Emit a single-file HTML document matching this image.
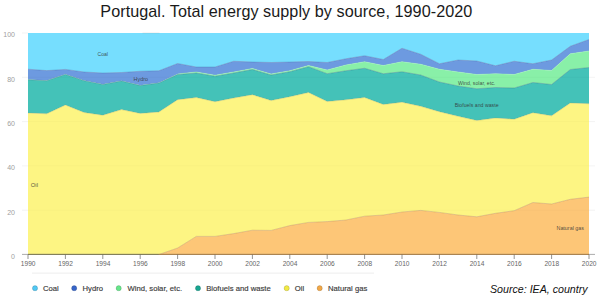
<!DOCTYPE html>
<html><head><meta charset="utf-8"><style>
html,body{margin:0;padding:0;background:#fff;width:600px;height:300px;overflow:hidden}
svg{display:block;font-family:"Liberation Sans",sans-serif}
</style></head><body>
<svg width="600" height="300" viewBox="0 0 600 300">
<text x="100.3" y="16.6" font-size="16.2" letter-spacing="0.05" fill="#1a1a1a">Portugal. Total energy supply by source, 1990-2020</text>
<line x1="22" y1="210.20" x2="595" y2="210.20" stroke="#ebebeb" stroke-width="0.6"/><line x1="22" y1="165.90" x2="595" y2="165.90" stroke="#ebebeb" stroke-width="0.6"/><line x1="22" y1="121.60" x2="595" y2="121.60" stroke="#ebebeb" stroke-width="0.6"/><line x1="22" y1="77.30" x2="595" y2="77.30" stroke="#ebebeb" stroke-width="0.6"/><line x1="22" y1="33.00" x2="28" y2="33.00" stroke="#ebebeb" stroke-width="0.6"/>
<text x="15" y="258.80" text-anchor="end" font-size="7" fill="#a0a0a0">0</text><text x="15" y="214.50" text-anchor="end" font-size="7" fill="#a0a0a0">20</text><text x="15" y="170.20" text-anchor="end" font-size="7" fill="#a0a0a0">40</text><text x="15" y="125.90" text-anchor="end" font-size="7" fill="#a0a0a0">60</text><text x="15" y="81.60" text-anchor="end" font-size="7" fill="#a0a0a0">80</text><text x="15" y="37.30" text-anchor="end" font-size="7" fill="#a0a0a0">100</text>
<polygon points="28.0,33.00 46.7,33.00 65.4,33.00 84.1,33.00 102.8,33.00 121.5,33.00 140.2,33.00 158.9,33.00 177.6,33.00 196.3,33.00 215.0,33.00 233.7,33.00 252.4,33.00 271.1,33.00 289.8,33.00 308.5,33.00 327.2,33.00 345.9,33.00 364.6,33.00 383.3,33.00 402.0,33.00 420.7,33.00 439.4,33.00 458.1,33.00 476.8,33.00 495.5,33.00 514.2,33.00 532.9,33.00 551.6,33.00 570.3,33.00 589.0,33.00 589.0,39.50 570.3,46.25 551.6,60.00 532.9,63.75 514.2,61.25 495.5,65.75 476.8,61.00 458.1,60.00 439.4,63.75 420.7,54.25 402.0,48.25 383.3,59.50 364.6,55.75 345.9,58.75 327.2,62.50 308.5,61.50 289.8,62.00 271.1,62.50 252.4,62.00 233.7,61.25 215.0,67.00 196.3,67.00 177.6,63.50 158.9,70.75 140.2,71.25 121.5,72.50 102.8,73.00 84.1,72.00 65.4,69.40 46.7,70.60 28.0,69.20" fill="#76DEFE"/><polygon points="28.0,69.20 46.7,70.60 65.4,69.40 84.1,72.00 102.8,73.00 121.5,72.50 140.2,71.25 158.9,70.75 177.6,63.50 196.3,67.00 215.0,67.00 233.7,61.25 252.4,62.00 271.1,62.50 289.8,62.00 308.5,61.50 327.2,62.50 345.9,58.75 364.6,55.75 383.3,59.50 402.0,48.25 420.7,54.25 439.4,63.75 458.1,60.00 476.8,61.00 495.5,65.75 514.2,61.25 532.9,63.75 551.6,60.00 570.3,46.25 589.0,39.50 589.0,51.00 570.3,53.80 551.6,70.50 532.9,69.30 514.2,74.50 495.5,73.75 476.8,74.50 458.1,72.00 439.4,69.25 420.7,64.25 402.0,61.75 383.3,65.50 364.6,61.75 345.9,65.00 327.2,70.00 308.5,65.50 289.8,70.75 271.1,74.00 252.4,68.50 233.7,72.00 215.0,75.25 196.3,72.00 177.6,74.00 158.9,82.80 140.2,85.30 121.5,80.75 102.8,84.25 84.1,80.50 65.4,74.25 46.7,80.50 28.0,79.50" fill="#6D9AE0"/><polygon points="28.0,79.50 46.7,80.50 65.4,74.25 84.1,80.50 102.8,84.25 121.5,80.75 140.2,85.30 158.9,82.80 177.6,74.00 196.3,72.00 215.0,75.25 233.7,72.00 252.4,68.50 271.1,74.00 289.8,70.75 308.5,65.50 327.2,70.00 345.9,65.00 364.6,61.75 383.3,65.50 402.0,61.75 420.7,64.25 439.4,69.25 458.1,72.00 476.8,74.50 495.5,73.75 514.2,74.50 532.9,69.30 551.6,70.50 570.3,53.80 589.0,51.00 589.0,67.50 570.3,69.50 551.6,84.50 532.9,82.50 514.2,88.00 495.5,87.50 476.8,88.75 458.1,86.00 439.4,82.00 420.7,75.00 402.0,71.75 383.3,73.75 364.6,68.25 345.9,70.75 327.2,73.70 308.5,66.75 289.8,71.75 271.1,75.00 252.4,69.50 233.7,73.00 215.0,76.25 196.3,73.00 177.6,74.50 158.9,83.00 140.2,85.60 121.5,81.00 102.8,84.50 84.1,80.70 65.4,74.50 46.7,80.70 28.0,79.70" fill="#89F0A8"/><polygon points="28.0,79.70 46.7,80.70 65.4,74.50 84.1,80.70 102.8,84.50 121.5,81.00 140.2,85.60 158.9,83.00 177.6,74.50 196.3,73.00 215.0,76.25 233.7,73.00 252.4,69.50 271.1,75.00 289.8,71.75 308.5,66.75 327.2,73.70 345.9,70.75 364.6,68.25 383.3,73.75 402.0,71.75 420.7,75.00 439.4,82.00 458.1,86.00 476.8,88.75 495.5,87.50 514.2,88.00 532.9,82.50 551.6,84.50 570.3,69.50 589.0,67.50 589.0,103.70 570.3,103.00 551.6,115.80 532.9,112.70 514.2,119.20 495.5,118.00 476.8,120.50 458.1,116.30 439.4,111.70 420.7,106.30 402.0,102.20 383.3,104.50 364.6,97.50 345.9,99.80 327.2,101.50 308.5,92.50 289.8,96.70 271.1,100.50 252.4,94.70 233.7,98.00 215.0,101.70 196.3,97.50 177.6,99.70 158.9,112.00 140.2,113.40 121.5,109.60 102.8,115.20 84.1,112.50 65.4,105.00 46.7,113.75 28.0,113.00" fill="#44C2B8"/><polygon points="28.0,113.00 46.7,113.75 65.4,105.00 84.1,112.50 102.8,115.20 121.5,109.60 140.2,113.40 158.9,112.00 177.6,99.70 196.3,97.50 215.0,101.70 233.7,98.00 252.4,94.70 271.1,100.50 289.8,96.70 308.5,92.50 327.2,101.50 345.9,99.80 364.6,97.50 383.3,104.50 402.0,102.20 420.7,106.30 439.4,111.70 458.1,116.30 476.8,120.50 495.5,118.00 514.2,119.20 532.9,112.70 551.6,115.80 570.3,103.00 589.0,103.70 589.0,197.10 570.3,199.30 551.6,204.00 532.9,202.50 514.2,210.70 495.5,213.30 476.8,216.80 458.1,215.00 439.4,212.40 420.7,210.40 402.0,212.00 383.3,215.00 364.6,216.20 345.9,220.00 327.2,221.60 308.5,222.40 289.8,225.60 271.1,230.40 252.4,230.20 233.7,233.60 215.0,236.40 196.3,236.40 177.6,248.00 158.9,254.50 140.2,254.50 121.5,254.50 102.8,254.50 84.1,254.50 65.4,254.50 46.7,254.50 28.0,254.50" fill="#FDF583"/><polygon points="28.0,254.50 46.7,254.50 65.4,254.50 84.1,254.50 102.8,254.50 121.5,254.50 140.2,254.50 158.9,254.50 177.6,248.00 196.3,236.40 215.0,236.40 233.7,233.60 252.4,230.20 271.1,230.40 289.8,225.60 308.5,222.40 327.2,221.60 345.9,220.00 364.6,216.20 383.3,215.00 402.0,212.00 420.7,210.40 439.4,212.40 458.1,215.00 476.8,216.80 495.5,213.30 514.2,210.70 532.9,202.50 551.6,204.00 570.3,199.30 589.0,197.10 589.0,254.50 570.3,254.50 551.6,254.50 532.9,254.50 514.2,254.50 495.5,254.50 476.8,254.50 458.1,254.50 439.4,254.50 420.7,254.50 402.0,254.50 383.3,254.50 364.6,254.50 345.9,254.50 327.2,254.50 308.5,254.50 289.8,254.50 271.1,254.50 252.4,254.50 233.7,254.50 215.0,254.50 196.3,254.50 177.6,254.50 158.9,254.50 140.2,254.50 121.5,254.50 102.8,254.50 84.1,254.50 65.4,254.50 46.7,254.50 28.0,254.50" fill="#FDC677"/><polyline points="28.0,69.20 46.7,70.60 65.4,69.40 84.1,72.00 102.8,73.00 121.5,72.50 140.2,71.25 158.9,70.75 177.6,63.50 196.3,67.00 215.0,67.00 233.7,61.25 252.4,62.00 271.1,62.50 289.8,62.00 308.5,61.50 327.2,62.50 345.9,58.75 364.6,55.75 383.3,59.50 402.0,48.25 420.7,54.25 439.4,63.75 458.1,60.00 476.8,61.00 495.5,65.75 514.2,61.25 532.9,63.75 551.6,60.00 570.3,46.25 589.0,39.50" fill="none" stroke="#3f5f9a" stroke-width="0.6" stroke-opacity="0.5"/><polyline points="177.6,74.00 196.3,72.00 215.0,75.25 233.7,72.00 252.4,68.50 271.1,74.00 289.8,70.75 308.5,65.50 327.2,70.00 345.9,65.00 364.6,61.75 383.3,65.50 402.0,61.75 420.7,64.25 439.4,69.25 458.1,72.00 476.8,74.50 495.5,73.75 514.2,74.50 532.9,69.30 551.6,70.50 570.3,53.80 589.0,51.00" fill="none" stroke="#a0f5b8" stroke-width="0.6" stroke-opacity="0.8"/><polyline points="28.0,79.70 46.7,80.70 65.4,74.50 84.1,80.70 102.8,84.50 121.5,81.00 140.2,85.60 158.9,83.00 177.6,74.50 196.3,73.00 215.0,76.25 233.7,73.00 252.4,69.50 271.1,75.00 289.8,71.75 308.5,66.75 327.2,73.70 345.9,70.75 364.6,68.25 383.3,73.75 402.0,71.75 420.7,75.00 439.4,82.00 458.1,86.00 476.8,88.75 495.5,87.50 514.2,88.00 532.9,82.50 551.6,84.50 570.3,69.50 589.0,67.50" fill="none" stroke="#2f6070" stroke-width="0.6" stroke-opacity="0.5"/><polyline points="28.0,113.00 46.7,113.75 65.4,105.00 84.1,112.50 102.8,115.20 121.5,109.60 140.2,113.40 158.9,112.00 177.6,99.70 196.3,97.50 215.0,101.70 233.7,98.00 252.4,94.70 271.1,100.50 289.8,96.70 308.5,92.50 327.2,101.50 345.9,99.80 364.6,97.50 383.3,104.50 402.0,102.20 420.7,106.30 439.4,111.70 458.1,116.30 476.8,120.50 495.5,118.00 514.2,119.20 532.9,112.70 551.6,115.80 570.3,103.00 589.0,103.70" fill="none" stroke="#8a9a60" stroke-width="0.6" stroke-opacity="0.5"/><polyline points="158.9,254.50 177.6,248.00 196.3,236.40 215.0,236.40 233.7,233.60 252.4,230.20 271.1,230.40 289.8,225.60 308.5,222.40 327.2,221.60 345.9,220.00 364.6,216.20 383.3,215.00 402.0,212.00 420.7,210.40 439.4,212.40 458.1,215.00 476.8,216.80 495.5,213.30 514.2,210.70 532.9,202.50 551.6,204.00 570.3,199.30 589.0,197.10" fill="none" stroke="#a07a45" stroke-width="0.6" stroke-opacity="0.5"/>
<line x1="142.5" y1="33" x2="159.5" y2="33" stroke="#8a6a5a" stroke-width="0.4" stroke-opacity="0.35"/>
<line x1="28" y1="210.20" x2="589" y2="210.20" stroke="#000" stroke-opacity="0.04" stroke-width="0.6"/><line x1="28" y1="165.90" x2="589" y2="165.90" stroke="#000" stroke-opacity="0.04" stroke-width="0.6"/><line x1="28" y1="121.60" x2="589" y2="121.60" stroke="#000" stroke-opacity="0.04" stroke-width="0.6"/><line x1="28" y1="77.30" x2="589" y2="77.30" stroke="#000" stroke-opacity="0.04" stroke-width="0.6"/>
<line x1="22" y1="254.4" x2="595" y2="254.4" stroke="#8a8a8a" stroke-width="0.7"/>
<line x1="28" y1="254.4" x2="158.9" y2="254.4" stroke="#77734a" stroke-width="0.9"/>
<line x1="158.9" y1="254.4" x2="589" y2="254.4" stroke="#a87a40" stroke-width="0.9"/>
<line x1="28.0" y1="254.5" x2="28.0" y2="259" stroke="#666" stroke-width="0.7"/><text x="28.2" y="266" text-anchor="middle" font-size="6.6" fill="#666">1990</text><line x1="65.4" y1="254.5" x2="65.4" y2="259" stroke="#666" stroke-width="0.7"/><text x="65.6" y="266" text-anchor="middle" font-size="6.6" fill="#666">1992</text><line x1="102.8" y1="254.5" x2="102.8" y2="259" stroke="#666" stroke-width="0.7"/><text x="103.0" y="266" text-anchor="middle" font-size="6.6" fill="#666">1994</text><line x1="140.2" y1="254.5" x2="140.2" y2="259" stroke="#666" stroke-width="0.7"/><text x="140.4" y="266" text-anchor="middle" font-size="6.6" fill="#666">1996</text><line x1="177.6" y1="254.5" x2="177.6" y2="259" stroke="#666" stroke-width="0.7"/><text x="177.8" y="266" text-anchor="middle" font-size="6.6" fill="#666">1998</text><line x1="215.0" y1="254.5" x2="215.0" y2="259" stroke="#666" stroke-width="0.7"/><text x="215.2" y="266" text-anchor="middle" font-size="6.6" fill="#666">2000</text><line x1="252.4" y1="254.5" x2="252.4" y2="259" stroke="#666" stroke-width="0.7"/><text x="252.6" y="266" text-anchor="middle" font-size="6.6" fill="#666">2002</text><line x1="289.8" y1="254.5" x2="289.8" y2="259" stroke="#666" stroke-width="0.7"/><text x="290.0" y="266" text-anchor="middle" font-size="6.6" fill="#666">2004</text><line x1="327.2" y1="254.5" x2="327.2" y2="259" stroke="#666" stroke-width="0.7"/><text x="327.4" y="266" text-anchor="middle" font-size="6.6" fill="#666">2006</text><line x1="364.6" y1="254.5" x2="364.6" y2="259" stroke="#666" stroke-width="0.7"/><text x="364.8" y="266" text-anchor="middle" font-size="6.6" fill="#666">2008</text><line x1="402.0" y1="254.5" x2="402.0" y2="259" stroke="#666" stroke-width="0.7"/><text x="402.2" y="266" text-anchor="middle" font-size="6.6" fill="#666">2010</text><line x1="439.4" y1="254.5" x2="439.4" y2="259" stroke="#666" stroke-width="0.7"/><text x="439.6" y="266" text-anchor="middle" font-size="6.6" fill="#666">2012</text><line x1="476.8" y1="254.5" x2="476.8" y2="259" stroke="#666" stroke-width="0.7"/><text x="477.0" y="266" text-anchor="middle" font-size="6.6" fill="#666">2014</text><line x1="514.2" y1="254.5" x2="514.2" y2="259" stroke="#666" stroke-width="0.7"/><text x="514.4" y="266" text-anchor="middle" font-size="6.6" fill="#666">2016</text><line x1="551.6" y1="254.5" x2="551.6" y2="259" stroke="#666" stroke-width="0.7"/><text x="551.8" y="266" text-anchor="middle" font-size="6.6" fill="#666">2018</text><line x1="589.0" y1="254.5" x2="589.0" y2="259" stroke="#666" stroke-width="0.7"/><text x="589.2" y="266" text-anchor="middle" font-size="6.6" fill="#666">2020</text>

<text x="97.6" y="55.8" font-size="5.6" fill="#333" fill-opacity="0.85" textLength="10.4" lengthAdjust="spacingAndGlyphs">Coal</text>
<text x="133.5" y="81.3" font-size="5.6" fill="#333" fill-opacity="0.85" textLength="14.5" lengthAdjust="spacingAndGlyphs">Hydro</text>
<text x="458" y="84.8" font-size="5.6" fill="#333" fill-opacity="0.85" textLength="37.2" lengthAdjust="spacingAndGlyphs">Wind, solar, etc.</text>
<text x="454.7" y="107.1" font-size="5.6" fill="#333" fill-opacity="0.85" textLength="43.9" lengthAdjust="spacingAndGlyphs">Biofuels and waste</text>
<text x="30.8" y="186.8" font-size="5.6" fill="#333" fill-opacity="0.85" textLength="7.2" lengthAdjust="spacingAndGlyphs">Oil</text>
<text x="556.5" y="230" font-size="5.6" fill="#333" fill-opacity="0.85" textLength="27.5" lengthAdjust="spacingAndGlyphs">Natural gas</text>

<line x1="32" y1="273.1" x2="374" y2="273.1" stroke="#e9e9e9" stroke-width="0.8"/>
<circle cx="35" cy="288.2" r="2.6" fill="#50C8F4" stroke="#000" stroke-opacity="0.22" stroke-width="0.6"/><text x="43" y="290.5" font-size="7.7" fill="#3a3a3a" stroke="#3a3a3a" stroke-width="0.15">Coal</text><circle cx="74.2" cy="288.2" r="2.6" fill="#3765C9" stroke="#000" stroke-opacity="0.22" stroke-width="0.6"/><text x="82.5" y="290.5" font-size="7.7" fill="#3a3a3a" stroke="#3a3a3a" stroke-width="0.15">Hydro</text><circle cx="118.7" cy="288.2" r="2.6" fill="#66E68A" stroke="#000" stroke-opacity="0.22" stroke-width="0.6"/><text x="127.5" y="290.5" font-size="7.7" fill="#3a3a3a" stroke="#3a3a3a" stroke-width="0.15">Wind, solar, etc.</text><circle cx="198" cy="288.2" r="2.6" fill="#17A591" stroke="#000" stroke-opacity="0.22" stroke-width="0.6"/><text x="206.2" y="290.5" font-size="7.7" fill="#3a3a3a" stroke="#3a3a3a" stroke-width="0.15">Biofuels and waste</text><circle cx="286.7" cy="288.2" r="2.6" fill="#F2EA45" stroke="#000" stroke-opacity="0.22" stroke-width="0.6"/><text x="294.7" y="290.5" font-size="7.7" fill="#3a3a3a" stroke="#3a3a3a" stroke-width="0.15">Oil</text><circle cx="319.7" cy="288.2" r="2.6" fill="#F2A847" stroke="#000" stroke-opacity="0.22" stroke-width="0.6"/><text x="328" y="290.5" font-size="7.7" fill="#3a3a3a" stroke="#3a3a3a" stroke-width="0.15">Natural gas</text>
<text x="490" y="293.1" font-size="10.65" font-style="italic" fill="#111">Source: IEA, country</text>
</svg>
</body></html>
